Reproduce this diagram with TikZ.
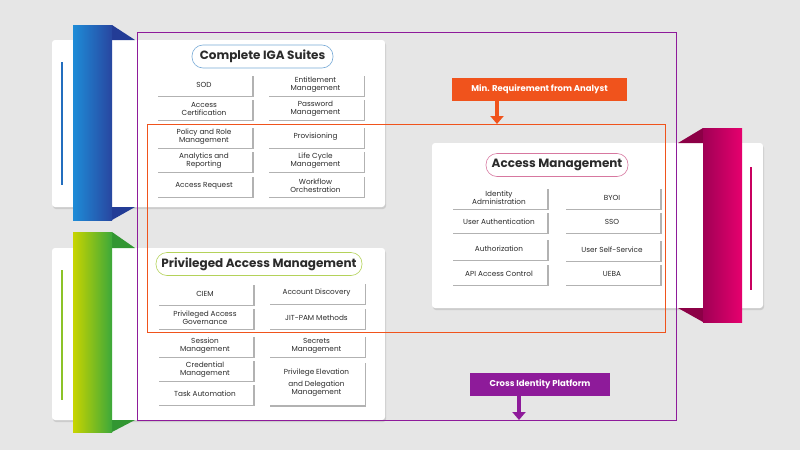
\documentclass[tikz,border=0pt]{standalone}
\usepackage{fontspec}
\setmainfont{Poppins}
\usetikzlibrary{arrows.meta}
\definecolor{bg}{HTML}{E6E6E6}
\definecolor{orng}{HTML}{F0531C}
\definecolor{purp}{HTML}{8E1B9A}
\definecolor{txt}{HTML}{2B2B2B}
\definecolor{blA}{RGB}{30,140,215}\definecolor{blB}{RGB}{40,70,160}\definecolor{blC}{RGB}{35,110,190}\definecolor{blD}{RGB}{35,60,150}
\definecolor{grA}{RGB}{200,212,0}\definecolor{grB}{RGB}{60,168,58}\definecolor{grC}{RGB}{140,195,40}\definecolor{grD}{RGB}{50,150,50}
\definecolor{pkA}{RGB}{160,0,85}\definecolor{pkB}{RGB}{230,0,110}\definecolor{pkC}{RGB}{200,0,95}\definecolor{pkD}{RGB}{140,0,70}
\definecolor{pilA}{RGB}{120,170,215}\definecolor{pilB}{RGB}{180,210,90}\definecolor{pilC}{RGB}{215,120,160}
\begin{document}
\begin{tikzpicture}[x=1pt,y=-1pt,
 card/.style={fill=white,rounded corners=3pt,preaction={fill=black!20,transform canvas={xshift=1pt,yshift=-2pt}}},
 item/.style={fill=white,minimum width=96pt,minimum height=21pt,inner sep=1pt,align=center,font=\fontsize{7.3}{8.3}\selectfont,text=txt,preaction={fill=black!30,transform canvas={xshift=1.5pt,yshift=-1.5pt}}},
 pill/.style={rounded corners=11pt,fill=white,draw=#1,line width=0.6pt,minimum height=23pt,font=\fontsize{12}{14}\selectfont\bfseries,text=txt},
 lab/.style={fill=#1,text=white,font=\fontsize{8.5}{10}\selectfont\bfseries,minimum height=23pt,inner sep=2pt},
 arr/.style={#1,line width=4pt,-{Triangle[length=8pt,width=13pt]}}]
\fill[bg] (0,0) rectangle (800,450);
\useasboundingbox (0,0) rectangle (800,450);
% cards
\path[card] (52,40) rectangle (385,207);
\path[card] (52,248) rectangle (385,420);
\path[card] (432,143) rectangle (763,308);
% blue ribbon
\fill[blD] (112,25) -- (135,40) -- (112,40) -- cycle;
\fill[blD] (112,207) -- (135,207) -- (112,220) -- cycle;
\shade[left color=blA,right color=blB] (73,25) rectangle (112,220);
\draw[line width=2.5pt,blC] (62,62) -- (62,185);
% green ribbon
\fill[grD] (112,232) -- (135,248) -- (112,248) -- cycle;
\fill[grD] (112,420) -- (135,420) -- (112,432) -- cycle;
\shade[left color=grA,right color=grB] (73,232) rectangle (112,432);
\draw[line width=2.5pt,grC] (62,270) -- (62,400);
% pink ribbon
\fill[pkD] (703,128) -- (678,143) -- (703,143) -- cycle;
\fill[pkD] (703,308) -- (678,308) -- (703,322) -- cycle;
\shade[left color=pkA,right color=pkB] (703,128) rectangle (742,322);
\draw[line width=2.5pt,pkC] (751,167) -- (751,290);
% frames
\draw[purp,line width=1pt] (137,32) rectangle (676,420);
\draw[orng,line width=1pt] (147,124) rectangle (665,332);
% labels
\node[lab=orng,minimum width=175pt] (req) at (539.5,89) {Min. Requirement from Analyst};
\coordinate (reqend) at (497,124);
\draw[arr=orng] (req.south -| reqend) -- (reqend);
\node[lab=purp,minimum width=140pt] (cip) at (540,384) {Cross Identity Platform};
\coordinate (cipend) at (519,420);
\draw[arr=purp] (cip.south -| cipend) -- (cipend);
% IGA
\node[pill=pilA,minimum width=141pt] (t1) at (262.5,56.5) {Complete IGA Suites};
\node[item] (a1) at (204,85) {SOD};
\node[item] (a2) at (315.5,85) {Entitlement\\Management};
\node[item] (a3) at (204,109) {Access\\Certification};
\node[item] (a4) at (315.5,109) {Password\\Management};
\node[item] (a5) at (204,137) {Policy and Role\\Management};
\node[item] (a6) at (315.5,137) {Provisioning};
\node[item] (a7) at (204,161) {Analytics and\\Reporting};
\node[item] (a8) at (315.5,161) {Life Cycle\\Management};
\node[item] (a9) at (204,186) {Access Request};
\node[item] (a10) at (315.5,186) {Workflow\\Orchestration};
% PAM
\node[pill=pilB,minimum width=206pt] (t2) at (259,264) {Privileged Access Management};
\node[item] (b1) at (205,294) {CIEM};
\node[item] (b2) at (316.5,293) {Account Discovery};
\node[item] (b3) at (205,318) {Privileged Access\\Governance};
\node[item] (b4) at (316.5,318) {JIT-PAM Methods};
\node[item] (b5) at (205,346) {Session\\Management};
\node[item] (b6) at (316.5,346) {Secrets\\Management};
\node[item] (b7) at (205,370) {Credential\\Management};
\node[item,minimum height=44pt] (b8) at (316.5,383) {Privilege Elevation\\[3pt]and Delegation\\Management};
\node[item] (b9) at (205,394) {Task Automation};
% AM
\node[pill=pilC,minimum width=142pt] (t3) at (557,165) {Access Management};
\node[item] (c1) at (499,198) {Identity\\Administration};
\node[item] (c2) at (612,198) {BYOI};
\node[item] (c3) at (499,222) {User Authentication};
\node[item] (c4) at (612,222) {SSO};
\node[item] (c5) at (499,249) {Authorization};
\node[item] (c6) at (612,250) {User Self-Service};
\node[item] (c7) at (499,274) {API Access Control};
\node[item] (c8) at (612,274) {UEBA};
\end{tikzpicture}
\end{document}
